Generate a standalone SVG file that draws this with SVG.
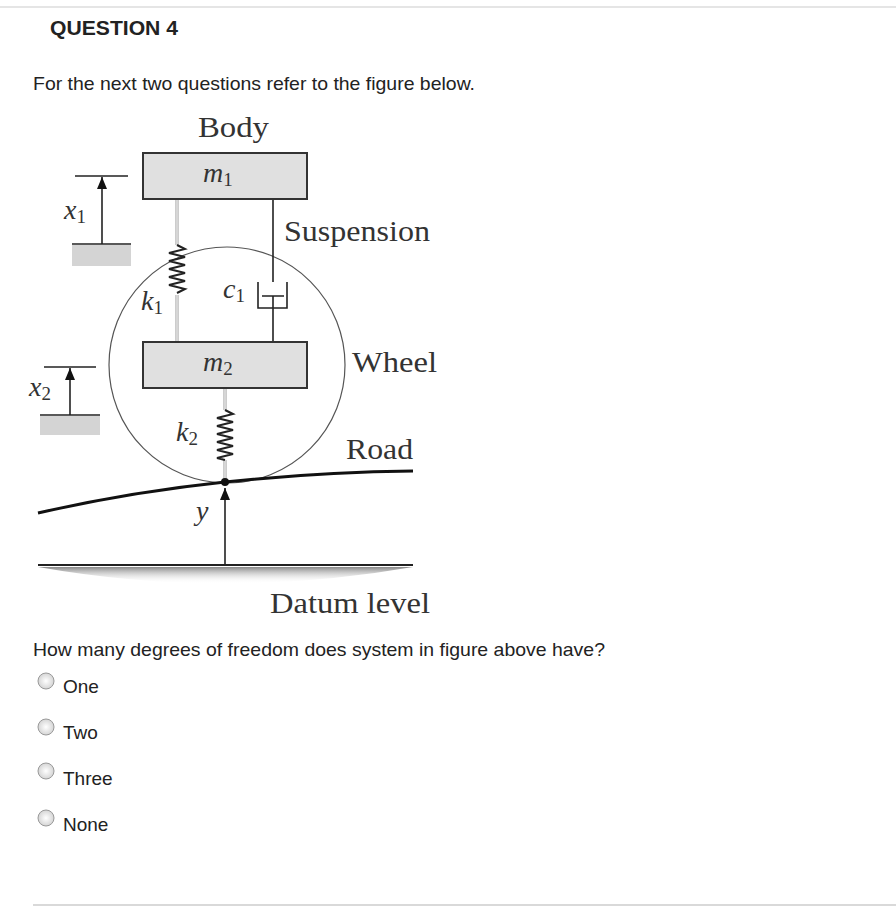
<svg xmlns="http://www.w3.org/2000/svg" width="896" height="910" viewBox="0 0 896 910">
<defs>
<marker id="ar" markerWidth="12" markerHeight="10" refX="12" refY="5" viewBox="0 0 12 10" orient="auto" markerUnits="userSpaceOnUse"><path d="M0,0 L12,5 L0,10 Z" fill="#111"/></marker>
<linearGradient id="sh" x1="0" y1="0" x2="0" y2="1"><stop offset="0" stop-color="#888"/><stop offset="1" stop-color="#fff" stop-opacity="0"/></linearGradient>
<radialGradient id="rb" cx="0.5" cy="0.5" r="0.6"><stop offset="0" stop-color="#fff"/><stop offset="1" stop-color="#ccc"/></radialGradient>
</defs>
<style>
.ui{font-family:"Helvetica","Liberation Sans",Arial,sans-serif;fill:#222}
.sf{font-family:"Liberation Serif","Times New Roman",serif;fill:#333}
.it{font-style:italic}
.sb{font-style:normal;font-size:19px}
.box{fill:#e0e0e0;stroke:#333;stroke-width:2}
.ln{stroke:#222;stroke-width:1.6;fill:none}
.gr{fill:#d4d4d4}
.rad{fill:url(#rb);stroke:#999;stroke-width:1}
</style>
<rect width="896" height="910" fill="#fff"/>
<line x1="0" y1="7" x2="896" y2="7" stroke="#ddd" stroke-width="1.5"/>
<text class="ui" x="50" y="35" font-size="20" font-weight="bold" textLength="128" lengthAdjust="spacingAndGlyphs">QUESTION 4</text>
<text class="ui" x="33" y="90" font-size="19" textLength="442" lengthAdjust="spacingAndGlyphs">For the next two questions refer to the figure below.</text>

<g id="wheel"><circle cx="227" cy="365" r="118" fill="none" stroke="#555" stroke-width="1.2"/></g>
<g id="connectors">
<path d="M177,199 V245 M177,295 V342" stroke="#999" stroke-width="3" fill="none"/>
<path d="M177,199 V245 M177,295 V342" stroke="#fff" stroke-width="1.2" fill="none"/>
<path d="M177,245 l8,4 -16,4 16,4 -16,4 16,4 -16,4 16,4 -16,4 16,4 -16,4 16,4 -8,4" stroke="#222" stroke-width="2" fill="none"/>
<path d="M273,199 V282 M273,296 V342" class="ln"/>
<path d="M258,282 V308 H287 V282 M262,296 H284" class="ln"/>
<path d="M225,388 V410 M225,460 V482" stroke="#999" stroke-width="3" fill="none"/>
<path d="M225,388 V410 M225,460 V482" stroke="#fff" stroke-width="1.2" fill="none"/>
<path d="M225,410 l8,4 -16,4 16,4 -16,4 16,4 -16,4 16,4 -16,4 16,4 -16,4 16,4 -16,4 8,2" stroke="#222" stroke-width="2" fill="none"/>
<path d="M38,513 Q130,492 225,482 Q320,472 413,471" stroke="#111" stroke-width="3" fill="none"/>
<circle cx="225" cy="482" r="4" fill="#111"/>
<path d="M38,567 Q225,600 413,567 Z" fill="url(#sh)"/>
<line x1="38" y1="565" x2="413" y2="565" stroke="#222" stroke-width="2"/>
<line x1="225" y1="565" x2="225" y2="488" class="ln" marker-end="url(#ar)"/>
<line x1="75" y1="176" x2="128" y2="176" class="ln"/>
<line x1="102" y1="244" x2="102" y2="177" class="ln" marker-end="url(#ar)"/>
<line x1="72" y1="244" x2="131" y2="244" class="ln"/>
<rect x="72" y="245" width="59" height="21" class="gr"/>
<line x1="44" y1="367" x2="96" y2="367" class="ln"/>
<line x1="70" y1="415" x2="70" y2="368" class="ln" marker-end="url(#ar)"/>
<line x1="40" y1="415" x2="100" y2="415" class="ln"/>
<rect x="40" y="416" width="60" height="19" class="gr"/>
</g>
<g id="m1"><rect x="143" y="153" width="164" height="46" class="box"/><text class="sf it" x="203" y="182" font-size="28">m<tspan class="sb" dy="4">1</tspan></text></g>
<g id="m2"><rect x="143" y="342" width="164" height="46" class="box"/><text class="sf it" x="203" y="371" font-size="28">m<tspan class="sb" dy="4">2</tspan></text></g>
<g id="labels">
<text class="sf" x="198" y="137" font-size="29" textLength="71" lengthAdjust="spacingAndGlyphs">Body</text>
<text class="sf" x="284" y="241" font-size="29" textLength="146" lengthAdjust="spacingAndGlyphs">Suspension</text>
<text class="sf" x="352" y="372" font-size="29" textLength="85" lengthAdjust="spacingAndGlyphs">Wheel</text>
<text class="sf" x="346" y="459" font-size="29" textLength="67" lengthAdjust="spacingAndGlyphs">Road</text>
<text class="sf" x="270" y="613" font-size="29" textLength="160" lengthAdjust="spacingAndGlyphs">Datum level</text>
<text class="sf it" x="223" y="298" font-size="28">c<tspan class="sb" dy="4">1</tspan></text>
<text class="sf it" x="141" y="310" font-size="28">k<tspan class="sb" dy="4">1</tspan></text>
<text class="sf it" x="176" y="441" font-size="28">k<tspan class="sb" dy="4">2</tspan></text>
<text class="sf it" x="196" y="520" font-size="28">y</text>
<text class="sf it" x="64" y="219" font-size="28">x<tspan class="sb" dy="4">1</tspan></text>
<text class="sf it" x="29" y="396" font-size="28">x<tspan class="sb" dy="4">2</tspan></text>
</g>
<text class="ui" x="33" y="656" font-size="19" textLength="572" lengthAdjust="spacingAndGlyphs">How many degrees of freedom does system in figure above have?</text>
<g id="options">
<circle cx="46" cy="681" r="8" class="rad"/><text class="ui" x="63" y="693" font-size="19">One</text>
<circle cx="46" cy="727" r="8" class="rad"/><text class="ui" x="63" y="739" font-size="19">Two</text>
<circle cx="46" cy="771" r="8" class="rad"/><text class="ui" x="63" y="785" font-size="19">Three</text>
<circle cx="46" cy="818" r="8" class="rad"/><text class="ui" x="63" y="831" font-size="19">None</text>
</g>
<line x1="33" y1="905" x2="896" y2="905" stroke="#ccc" stroke-width="1.5"/>
</svg>
